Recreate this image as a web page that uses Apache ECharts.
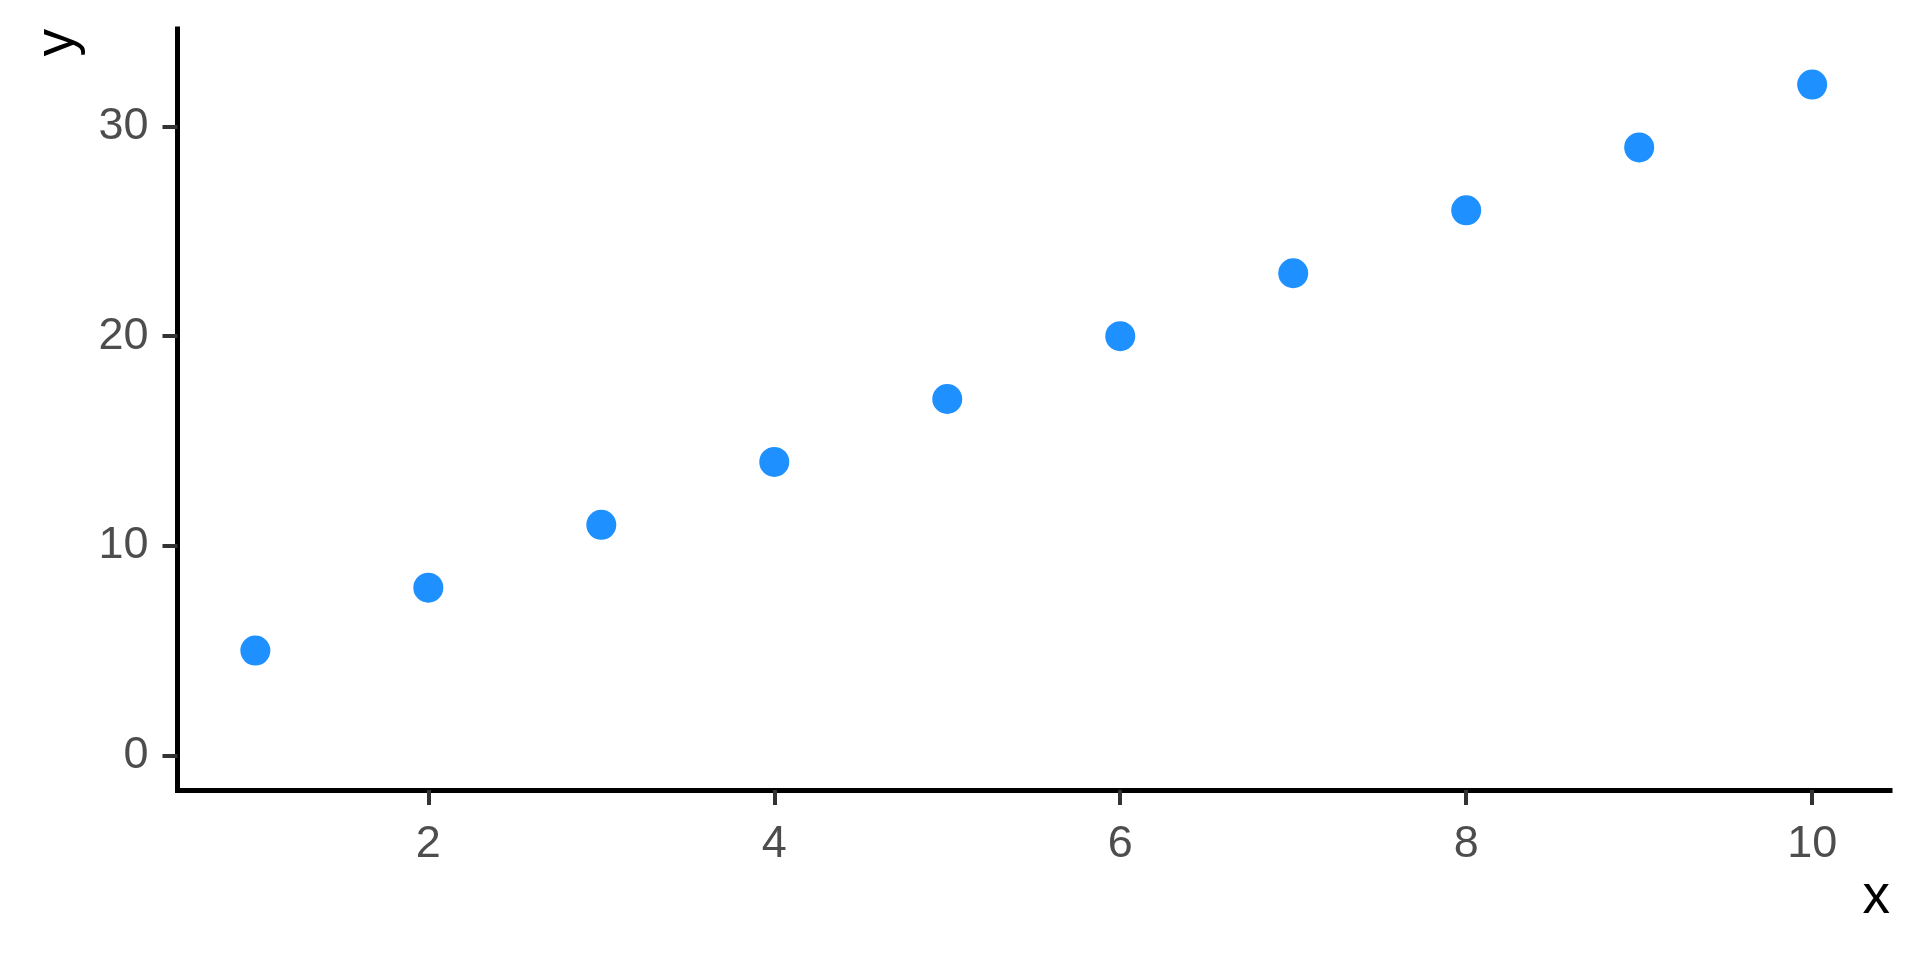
<!DOCTYPE html>
<html>
<head>
<meta charset="utf-8">
<script src="https://cdn.jsdelivr.net/npm/echarts@6/dist/echarts.min.js"></script>
<style>
html,body{margin:0;padding:0;background:#fff;}
#chart{width:1920px;height:960px;}
</style>
</head>
<body>
<div id="chart"></div>
<script>
const xValues = [1, 2, 3, 4, 5, 6, 7, 8, 9, 10];
const yValues = [5, 8, 11, 14, 17, 20, 23, 26, 29, 32];
const xTicks = [2, 4, 6, 8, 10];
const yTicks = [0, 10, 20, 30];
const xTitle = 'x';
const yTitle = 'y';

const chart = echarts.init(document.getElementById('chart'), null, {renderer: 'canvas'});
const font = 'Liberation Sans, Arial, sans-serif';
chart.setOption({
  backgroundColor: '#ffffff',
  animation: false,
  grid: {left: 177.5, right: 30, top: 29, bottom: 170, containLabel: false},
  xAxis: {
    type: 'value',
    min: 0.55, max: 10.45,
    name: xTitle,
    nameLocation: 'end',
    nameGap: 0,
    nameTextStyle: {fontFamily: font, fontSize: 55, color: '#000', align: 'right', verticalAlign: 'top', padding: [80, 0, 0, 0]},
    axisLine: {show: true, onZero: false, lineStyle: {color: '#000', width: 5, cap: 'square'}},
    axisTick: {show: true, inside: false, length: 15, customValues: xTicks, lineStyle: {color: '#333', width: 4}},
    axisLabel: {show: true, margin: 32, customValues: xTicks, fontFamily: font, fontSize: 45, color: '#4d4d4d'},
    splitLine: {show: false}
  },
  yAxis: {
    type: 'value',
    min: -1.65, max: 34.65,
    name: yTitle,
    nameLocation: 'end',
    nameGap: 0,
    nameRotate: 90,
    nameTextStyle: {fontFamily: font, fontSize: 55, color: '#000', align: 'right', verticalAlign: 'bottom', padding: [0, 0, 92, 0]},
    axisLine: {show: true, onZero: false, lineStyle: {color: '#000', width: 5, cap: 'square'}},
    axisTick: {show: true, inside: false, length: 15, customValues: yTicks, lineStyle: {color: '#333', width: 4}},
    axisLabel: {show: true, margin: 29, customValues: yTicks, fontFamily: font, fontSize: 45, color: '#4d4d4d'},
    splitLine: {show: false}
  },
  series: [{
    type: 'scatter',
    data: xValues.map((x, i) => [x, yValues[i]]),
    symbol: 'circle',
    symbolSize: 30,
    itemStyle: {color: '#1E90FF', opacity: 1}
  }]
});
</script>
</body>
</html>
